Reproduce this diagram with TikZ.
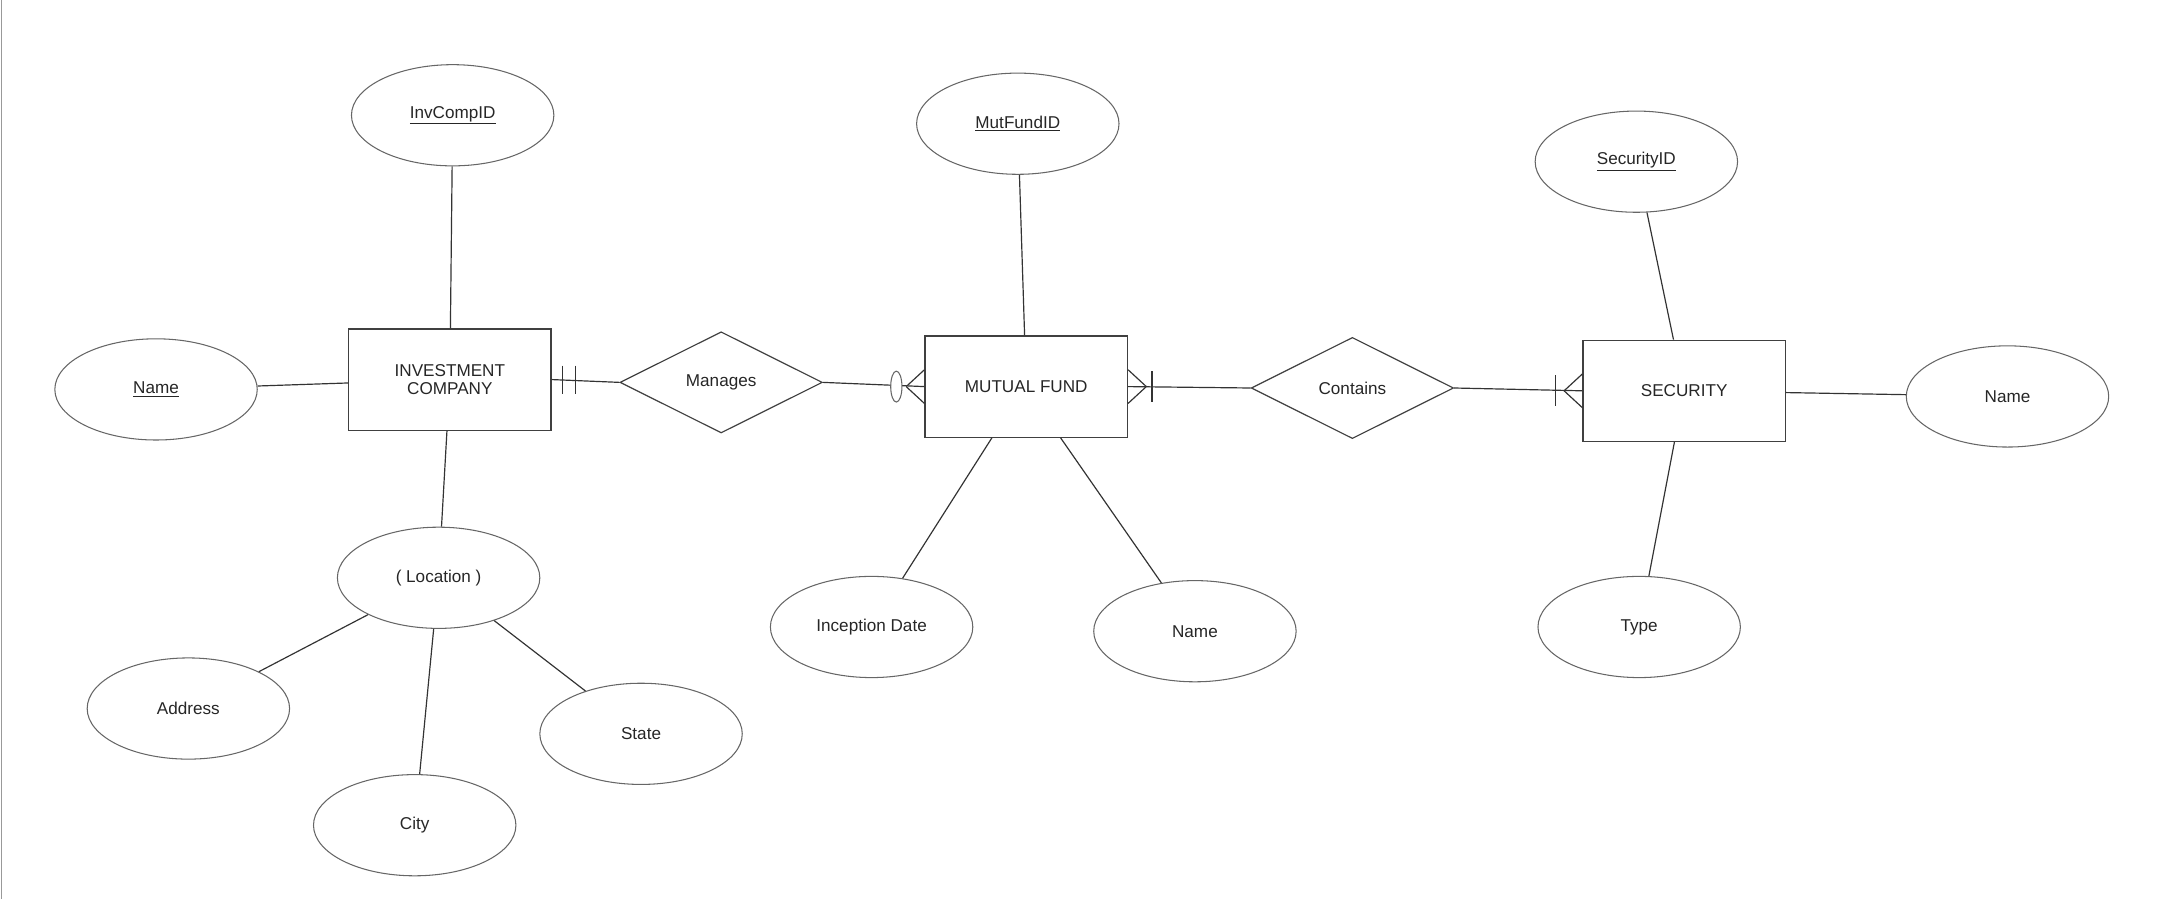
\documentclass[tikz,border=0pt]{standalone}
\usepackage{fontspec}
\setmainfont{Liberation Sans}
\usetikzlibrary{shapes.geometric,calc}
\begin{document}
\begin{tikzpicture}[x=0.0375cm,y=-0.0375cm,
  every node/.style={font=\fontsize{13}{15}\selectfont, text=black!85},
  attr/.style={ellipse,draw=black!60,line width=0.8pt,minimum width=5.4cm,minimum height=2.7cm,inner sep=0pt},
  ent/.style={rectangle,draw=black!75,line width=0.9pt,minimum width=5.4cm,minimum height=2.7cm,align=center,inner sep=0pt},
  rel/.style={diamond,draw=black!75,line width=0.9pt,minimum width=5.4cm,minimum height=2.7cm,inner sep=0pt,aspect=2},
  ln/.style={draw=black!80,line width=0.9pt}]
\useasboundingbox (0,0) rectangle (1550,639);
\draw[black!40,line width=0.8pt] (1,0) -- (1,645);
\node[ent] (ic) at (320,270) {INVESTMENT\\[-2pt]COMPANY};
\node[ent] (mf) at (730,275) {MUTUAL FUND};
\node[ent] (sec) at (1198,278) {SECURITY};
\node[rel] (man) at (513,272) {Manages};
\node[rel] (con) at (962,276) {Contains};
\node[attr] (icid) at (322,82) {\underline{InvCompID}};
\node[attr] (icname) at (111,277) {\underline{Name}};
\node[attr] (loc) at (312,411) {( Location )};
\node[attr] (addr) at (134,504) {Address};
\node[attr] (city) at (295,587) {City};
\node[attr] (state) at (456,522) {State};
\node[attr] (mfid) at (724,88) {\underline{MutFundID}};
\node[attr] (incep) at (620,446) {Inception Date};
\node[attr] (mfname) at (850,449) {Name};
\node[attr] (secid) at (1164,115) {\underline{SecurityID}};
\node[attr] (secname) at (1428,282) {Name};
\node[attr] (type) at (1166,446) {Type};
\draw[ln] (ic) -- (icid);
\draw[ln] (ic) -- (icname);
\draw[ln] (ic) -- (loc);
\draw[ln] (loc) -- (addr);
\draw[ln] (loc) -- (city);
\draw[ln] (loc) -- (state);
\draw[ln] (mf) -- (mfid);
\draw[ln] (mf.south west)++(48,0) -- (incep);
\draw[ln] (mf.south east)++(-48,0) -- (mfname);
\draw[ln] (sec) -- (secid);
\draw[ln] (sec) -- (secname);
\draw[ln] (sec) -- (type);
% Investment company -- Manages
\draw[ln] (ic.east) -- (man.west);
\draw[ln] ($(ic.east)+(8,-10)$) -- ++(0,20);
\draw[ln] ($(ic.east)+(17,-10)$) -- ++(0,20);
% Manages -- Mutual fund
\draw[ln] (man.east) -- (mf.west);
\draw[ln] ($(mf.west)+(-13,0)$) -- ($(mf.west)+(0,-12)$);
\draw[ln] ($(mf.west)+(-13,0)$) -- ($(mf.west)+(0,12)$);
\draw[black!60,line width=0.8pt,fill=white] ($(mf.west)+(-20,0)$) ellipse (4 and 11);
% Mutual fund -- Contains
\draw[ln] (mf.east) -- (con.west);
\draw[ln] ($(mf.east)+(13,0)$) -- ($(mf.east)+(0,-12)$);
\draw[ln] ($(mf.east)+(13,0)$) -- ($(mf.east)+(0,12)$);
\draw[ln] ($(mf.east)+(17,-11)$) -- ++(0,22);
% Contains -- Security
\draw[ln] (con.east) -- (sec.west);
\draw[ln] ($(sec.west)+(-13,0)$) -- ($(sec.west)+(0,-12)$);
\draw[ln] ($(sec.west)+(-13,0)$) -- ($(sec.west)+(0,12)$);
\draw[ln] ($(sec.west)+(-19,-11)$) -- ++(0,22);
\end{tikzpicture}
\end{document}
